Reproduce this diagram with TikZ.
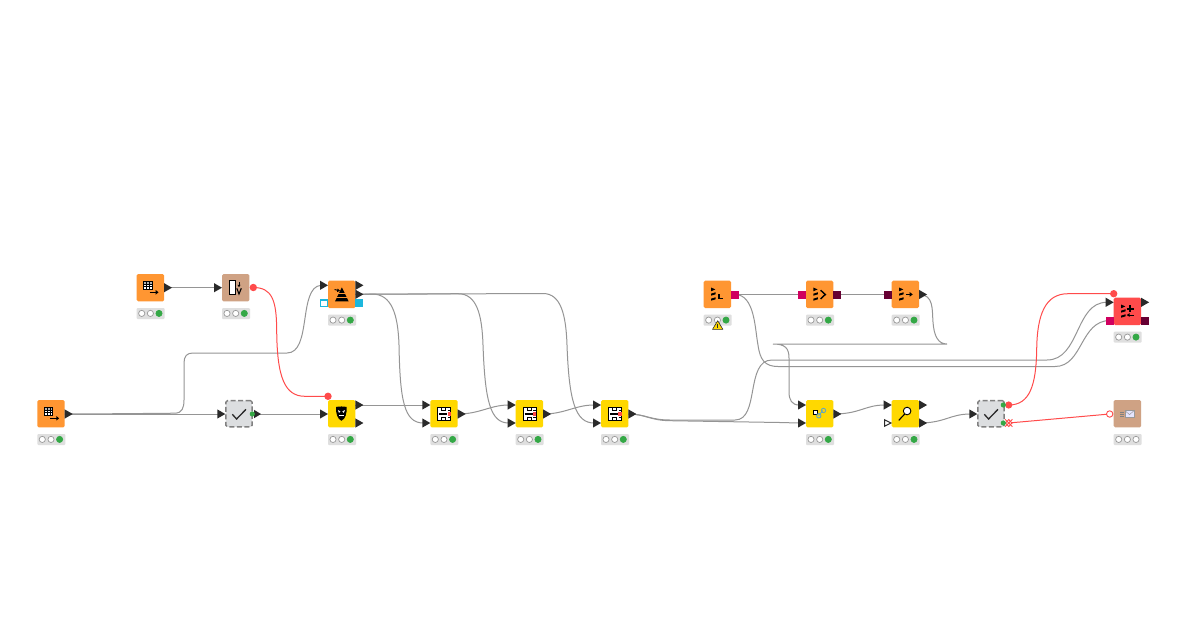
\documentclass[tikz,border=0pt]{standalone}
\pgfdeclarelayer{wires}
\pgfsetlayers{wires,main}
\definecolor{kor}{HTML}{FF9632}
\definecolor{kbr}{HTML}{CFA284}
\definecolor{kye}{HTML}{FFD800}
\definecolor{kre}{HTML}{FF4B4B}
\definecolor{kgy}{HTML}{DCDEE0}
\definecolor{kbar}{HTML}{DFDFDF}
\definecolor{kgr}{HTML}{34A846}
\definecolor{kdk}{HTML}{2A2A2A}
\definecolor{kcr}{HTML}{D0005F}
\definecolor{kpl}{HTML}{660033}
\definecolor{kcy}{HTML}{1CB7DD}
\definecolor{kwi}{HTML}{959595}
\tikzset{
  x=1pt,y=-1pt,
  knode/.style={rectangle,rounded corners=1.5pt,minimum size=27.4pt,inner sep=0pt,draw=none},
  checkbox/.style={knode,fill=kgy,draw=gray,dash pattern=on 5pt off 2.5pt,line width=1.4pt,minimum size=26.2pt},
  wire/.style={draw=kwi,line width=1pt},
  redwire/.style={draw=kre,line width=1pt},
  lamp/.style={draw=gray!80,fill=white,line width=0.7pt},
  greenlamp/.style={draw=kgr,fill=kgr,line width=0.7pt}
}
\newcommand{\knode}[4]{\node[knode,fill=#4] (#1) at (#2+13.7,#3+13.7) {};
  \kbarlamps{#2}{#3}{greenlamp}}
\newcommand{\kbarlamps}[3]{\begin{scope}[shift={(#1,#2)}]
  \fill[kbar,rounded corners=1pt] (0,34) rectangle (28,45);
  \draw[lamp] (5,39.4) circle (3.1);
  \draw[lamp] (13.7,39.4) circle (3.1);
  \draw[#3] (22.3,39.4) circle (3.1);
  \end{scope}}
\newcommand{\tout}[3]{\coordinate (#1) at (#2,#3);
  \fill[kdk] (#2,#3-4.6) -- (#2+8,#3) -- (#2,#3+4.6) -- cycle;}
\newcommand{\tin}[3]{\coordinate (#1) at (#2-7,#3);
  \fill[kdk] (#2-8,#3-4.6) -- (#2,#3) -- (#2-8,#3+4.6) -- cycle;}
\newcommand{\sqport}[4]{\coordinate (#1) at (#2+4,#3);
  \fill[#4] (#2,#3-4) rectangle (#2+7.8,#3+4);}
\newcommand{\icreader}[2]{\begin{scope}[shift={(#1,#2)}]
  \fill[white] (6.7,7) rectangle (15.3,15.3);
  \fill[gray!60] (6.7,7) rectangle (15.3,9.5);
  \draw[black,line width=0.8pt] (6.7,7) rectangle (15.3,15.3);
  \draw[black,line width=0.6pt] (9.6,7)--(9.6,15.3) (12.5,7)--(12.5,15.3) (6.7,9.8)--(15.3,9.8) (6.7,12.6)--(15.3,12.6);
  \draw[black,line width=1.2pt] (13,18.3)--(19.5,18.3);
  \fill[black] (19,16)--(21.8,18.3)--(19,20.6)--cycle;
  \end{scope}}
\newcommand{\iccolsplit}[2]{\begin{scope}[shift={(#1,#2)}]
  \draw[black,fill=white,line width=1pt] (7.3,6.7) rectangle (13,20.3);
  \draw[black,line width=0.9pt] (17,7.5)--(17,11.5);
  \fill[black] (15.4,10.8)--(18.6,10.8)--(17,13.2)--cycle;
  \draw[black,line width=1.1pt] (14.8,14.3)--(17,20)--(19.3,14.3);
  \end{scope}}
\newcommand{\icpyramid}[2]{\begin{scope}[shift={(#1,#2)}]
  \fill[black] (13.9,6.6)--(20.6,20.6)--(7,20.6)--cycle;
  \draw[kor,line width=0.55pt] (9,12.6)--(18.5,12.6) (7,16.8)--(20.5,16.8);
  \draw[black,line width=0.9pt] (6.6,8.8)--(10.5,9.8);
  \fill[black] (9.6,7.8)--(12.2,10.2)--(9,11.3)--cycle;
  \end{scope}}
\newcommand{\icmask}[2]{\begin{scope}[shift={(#1,#2)}]
  \fill[black] (8,7) .. controls (11,6.3) and (16,6.3) .. (18.7,7) .. controls (19,13) and (17.5,19) .. (13.4,20.8) .. controls (9.3,19) and (7.7,13) .. (8,7) -- cycle;
  \fill[white] (9.8,10) -- (12.4,11.4) -- (11,12.8) -- cycle;
  \fill[white] (17,10) -- (14.4,11.4) -- (15.8,12.8) -- cycle;
  \draw[white,line width=0.7pt] (11,15.8) -- (15.8,15.8);
  \end{scope}}
\newcommand{\icjoin}[2]{\begin{scope}[shift={(#1,#2)}]
  \draw[black,fill=white,line width=1.1pt] (7.6,7.3) rectangle (20.4,20.7);
  \draw[black,line width=1.1pt] (11.6,7.3)--(11.6,10.8) (11.6,17.2)--(11.6,20.7) (15.6,7.3)--(15.6,10.8) (15.6,17.2)--(15.6,20.7) (11.6,10.5)--(15.6,10.5) (11.6,17.5)--(15.6,17.5) (17.5,10.5)--(20.4,10.5) (17.5,17.5)--(20.4,17.5);
  \draw[black,line width=1.4pt] (9,14)--(17,14);
  \fill[kre] (17.2,12.2) rectangle (20.6,15.8);
  \end{scope}}
\newcommand{\icdash}[2]{\begin{scope}[shift={(#1,#2)}]
  \fill[black] (7.3,6.8)--(11.6,8.7)--(7.3,10.6)--cycle;
  \fill[black] (7.3,13)--(11.8,11.6)--(11.8,13.6)--(7.3,15)--cycle;
  \fill[black] (7.3,18)--(11.8,16.6)--(11.8,18.6)--(7.3,20)--cycle;
  \end{scope}}
\newcommand{\icL}[2]{\icdash{#1}{#2}\begin{scope}[shift={(#1,#2)}]
  \draw[black,line width=1.3pt] (15.3,13.3)--(15.3,17.8)--(19,17.8);
  \end{scope}}
\newcommand{\icgt}[2]{\icdash{#1}{#2}\begin{scope}[shift={(#1,#2)}]
  \draw[black,line width=1.4pt] (14.6,9.5)--(19.3,13.8)--(14.6,18.2);
  \end{scope}}
\newcommand{\icarr}[2]{\icdash{#1}{#2}\begin{scope}[shift={(#1,#2)}]
  \draw[black,line width=1.2pt] (14.3,13.7)--(19,13.7);
  \fill[black] (18,11.4)--(21,13.7)--(18,16)--cycle;
  \end{scope}}
\newcommand{\icplus}[2]{\icdash{#1}{#2}\begin{scope}[shift={(#1,#2)}]
  \draw[black,line width=1.6pt] (13,11)--(19.8,11) (16.4,7.3)--(16.4,14.7);
  \draw[black,line width=1pt] (15,17.3)--(20,17.3);
  \fill[black] (16,15.4)--(13,17.3)--(16,19.2)--cycle;
  \end{scope}}
\newcommand{\iccheck}[2]{\begin{scope}[shift={(#1,#2)}]
  \draw[draw=kdk,line width=1.3pt] (7,14.3)--(11.3,19)--(20.7,9.3);
  \end{scope}}
\newcommand{\icpack}[2]{\begin{scope}[shift={(#1,#2)}]
  \draw[black,fill=white,line width=0.8pt] (6.9,10.8) rectangle (11.7,14);
  \draw[cyan!50!gray,line width=0.9pt] (12.5,15.5)--(17,10.5);
  \draw[cyan!50!gray,line width=0.9pt] (17.5,10.5) circle (2.2) (12.8,15.8) circle (2.2);
  \end{scope}}
\newcommand{\icglass}[2]{\begin{scope}[shift={(#1,#2)}]
  \draw[black,line width=1.1pt] (7,20.4)--(13,14);
  \draw[black,fill=white,line width=0.9pt] (15.4,11) circle (3.8);
  \end{scope}}
\newcommand{\icmail}[2]{\begin{scope}[shift={(#1,#2)}]
  \draw[gray,line width=0.6pt] (6.3,12.7)--(10.2,12.7) (6.3,14.4)--(10.2,14.4) (6.3,16.1)--(10.2,16.1);
  \draw[gray!80,fill=white!90!blue,line width=0.5pt] (11.3,10.7) rectangle (20.3,17.7);
  \draw[gray!80,line width=0.5pt] (11.3,10.7)--(15.8,14.6)--(20.3,10.7);
  \end{scope}}
\begin{document}
\begin{tikzpicture}
\useasboundingbox (0,0) rectangle (1200,630);
\knode{rdA}{37.3}{400}{kor}\icreader{37.3}{400}
\tout{Ao}{64.7}{414}
\knode{rdB}{136.7}{274}{kor}\icreader{136.7}{274}
\tout{Bo}{164}{287.7}
\knode{cs}{222}{274}{kbr}\iccolsplit{222}{274}
\tin{Ci}{222}{287.7}
\knode{pyr}{328}{280.7}{kor}\icpyramid{328}{280.7}
\tin{Di}{328}{285.3}
\tout{Do}{355.4}{285.3}
\tout{Dp}{355.4}{294.3}
\draw[kcy,fill=white,line width=1.4pt] (320.7,300) rectangle (327.3,306.6);
\fill[kcy] (355.4,299.3) rectangle (363,307.3);
\node[checkbox] (ckA) at (239,413.7) {};
\iccheck{225.3}{400}
\tin{Ei}{225.3}{414}
\coordinate (Eo) at (252.3,414);
\fill[kdk] (254,409.8)--(261,414)--(254,418.2)--cycle;
\fill[kgr] (252.3,414) circle (2.6);
\knode{msk}{328}{400}{kye}\icmask{328}{400}
\tin{Fi}{328}{414}
\tout{Fa}{355.4}{405}
\tout{Fb}{355.4}{423}
\knode{jnG}{430.3}{400}{kye}\icjoin{430.3}{400}
\tin{Ga}{430.3}{405}\tin{Gb}{430.3}{423}\tout{Go}{457.7}{414}
\knode{jnH}{515.7}{400}{kye}\icjoin{515.7}{400}
\tin{Ha}{515.7}{405}\tin{Hb}{515.7}{423}\tout{Ho}{543.1}{414}
\knode{jnI}{601}{400}{kye}\icjoin{601}{400}
\tin{Ia}{601}{405}\tin{Ib}{601}{423}\tout{Io}{628.4}{414}
\knode{dJ}{703.7}{280.7}{kor}\icL{703.7}{280.7}
\sqport{Jo}{731.1}{294.5}{kcr}
\knode{dK}{806}{280.7}{kor}\icgt{806}{280.7}
\sqport{Ki}{798.2}{294.5}{kcr}\sqport{Ko}{833.4}{294.5}{kpl}
\knode{dL}{891.7}{280.7}{kor}\icarr{891.7}{280.7}
\sqport{Li}{883.9}{294.5}{kpl}\tout{Lo}{919.1}{294.5}
\draw[draw=kdk,fill=kye,line width=0.6pt,line join=round] (717.7,320.7)--(722.9,329.4)--(712.5,329.4)--cycle;
\draw[kdk,line width=0.8pt] (717.7,323.5)--(717.7,327.8);
\knode{pk}{806}{400}{kye}\icpack{806}{400}
\tin{Ma}{806}{405}\tin{Mb}{806}{423}\tout{Mo}{833.4}{414}
\knode{gl}{891.7}{400}{kye}\icglass{891.7}{400}
\tin{Na}{891.7}{405}\tout{Nb}{919.1}{405}\tout{Nc}{919.1}{423}
\draw[kdk,fill=white,line width=1pt] (884.6,419.8)--(891,423)--(884.6,426.2)--cycle;
\node[checkbox] (ckO) at (991,413.7) {};
\iccheck{977.3}{400}
\tin{Oi}{977.3}{414}
\coordinate (Oa) at (1008.7,405);
\coordinate (Ob) at (1008.7,423);
\fill[kre] (Oa) circle (3.6);
\fill[kgr] (1003.3,405) circle (2.6);
\fill[white] (1005,419.3) rectangle (1012.4,426.7);
\draw[kre,line width=0.9pt] (1005,419.3)--(1012.4,426.7) (1012.4,419.3)--(1005,426.7) (1005,422.5)--(1009,426.7) (1008.5,419.3)--(1012.4,423.5) (1012.4,422.5)--(1008.5,426.7) (1009,419.3)--(1005,423.5);
\fill[kgr] (1003.3,423) circle (2.6);
\knode{rP}{1113.7}{297.7}{kre}\icplus{1113.7}{297.7}
\tin{Pa}{1113.7}{302.3}
\tout{Po}{1141.1}{302.3}
\sqport{Pb}{1106}{320.5}{kcr}
\sqport{Pc}{1141.1}{320.5}{kpl}
\coordinate (Pf) at (1113.7,293.7);
\fill[kre] (Pf) circle (3.7);
\node[knode,fill=kbr] (ml) at (1127.4,413.7) {};
\kbarlamps{1113.7}{400}{lamp}
\icmail{1113.7}{400}
\coordinate (Qi) at (1109.7,414);
\draw[kre,fill=white,line width=0.9pt] (Qi) circle (3.2);
\coordinate (Cf) at (253.3,287.5);
\fill[kre] (Cf) circle (3.7);
\coordinate (Ff) at (328,396.3);
\fill[kre] (Ff) circle (3.7);
\begin{pgfonlayer}{wires}
\fill[white] (0,0) rectangle (1200,630);
\draw[wire] (Ao) -- (Ei);
\draw[wire] (Ao) -- (120,413.7) -- (175,413.2) .. controls (182,413) and (184,408) .. (184,400) -- (184,363) .. controls (184,356) and (187,353) .. (193,353) -- (287,353) .. controls (312,353) and (298,287) .. (Di);
\draw[wire] (Bo) -- (Ci);
\draw[redwire] (Cf) .. controls (272,287.5) and (276.5,300) .. (276.7,330) .. controls (277,378) and (285,396.3) .. (305,396.3) -- (Ff);
\draw[wire] (Eo) -- (Fi);
\draw[wire] (Fa) -- (Ga);
\draw[wire] (Dp) -- (372,294) .. controls (392,294) and (398,315) .. (399,345) .. controls (400,400) and (404,423) .. (Gb);
\draw[wire] (Dp) -- (458,293.7) .. controls (477,293.7) and (482,315) .. (483,345) .. controls (485,400) and (490,423) .. (Hb);
\draw[wire] (Dp) -- (543,293.5) .. controls (561,293.5) and (566,315) .. (567,345) .. controls (569,400) and (575,423) .. (Ib);
\draw[wire] (Go) .. controls (480,414) and (490,405) .. (Ha);
\draw[wire] (Ho) .. controls (565,414) and (575,405) .. (Ia);
\draw[wire] (Io) .. controls (645,414) and (650,420.5) .. (670,420.7) -- (780,422.5) -- (Mb);
\draw[wire] (Io) .. controls (645,414) and (650,420) .. (670,420) -- (735,420) .. controls (760,420) and (745,360) .. (772,360) -- (1047,360) .. controls (1080,360) and (1075,302.3) .. (Pa);
\draw[wire] (Jo) -- (Ki);
\draw[wire] (Jo) .. controls (755,294.5) and (755,330) .. (758,345) .. controls (760,360) and (765,366.5) .. (778,366.5) -- (1055,366.5) .. controls (1083,366.5) and (1080,320.5) .. (Pb);
\draw[wire] (Ko) -- (Li);
\draw[wire] (Lo) .. controls (934,294.5) and (932,310) .. (933,322) .. controls (934,336) and (938,344) .. (947,344) -- (773,344) .. controls (785,344) and (789,348) .. (789,358) -- (789,392) .. controls (789,400) and (792,405) .. (Ma);
\draw[wire] (Mo) .. controls (860,414) and (865,405) .. (Na);
\draw[wire] (Nc) .. controls (945,423) and (950,414) .. (Oi);
\draw[redwire] (Oa) .. controls (1030,405) and (1036,385) .. (1036.7,350) .. controls (1037,315) and (1045,293.7) .. (1068,293.7) -- (Pf);
\draw[redwire] (Ob) -- (Qi);
\end{pgfonlayer}
\end{tikzpicture}
\end{document}
